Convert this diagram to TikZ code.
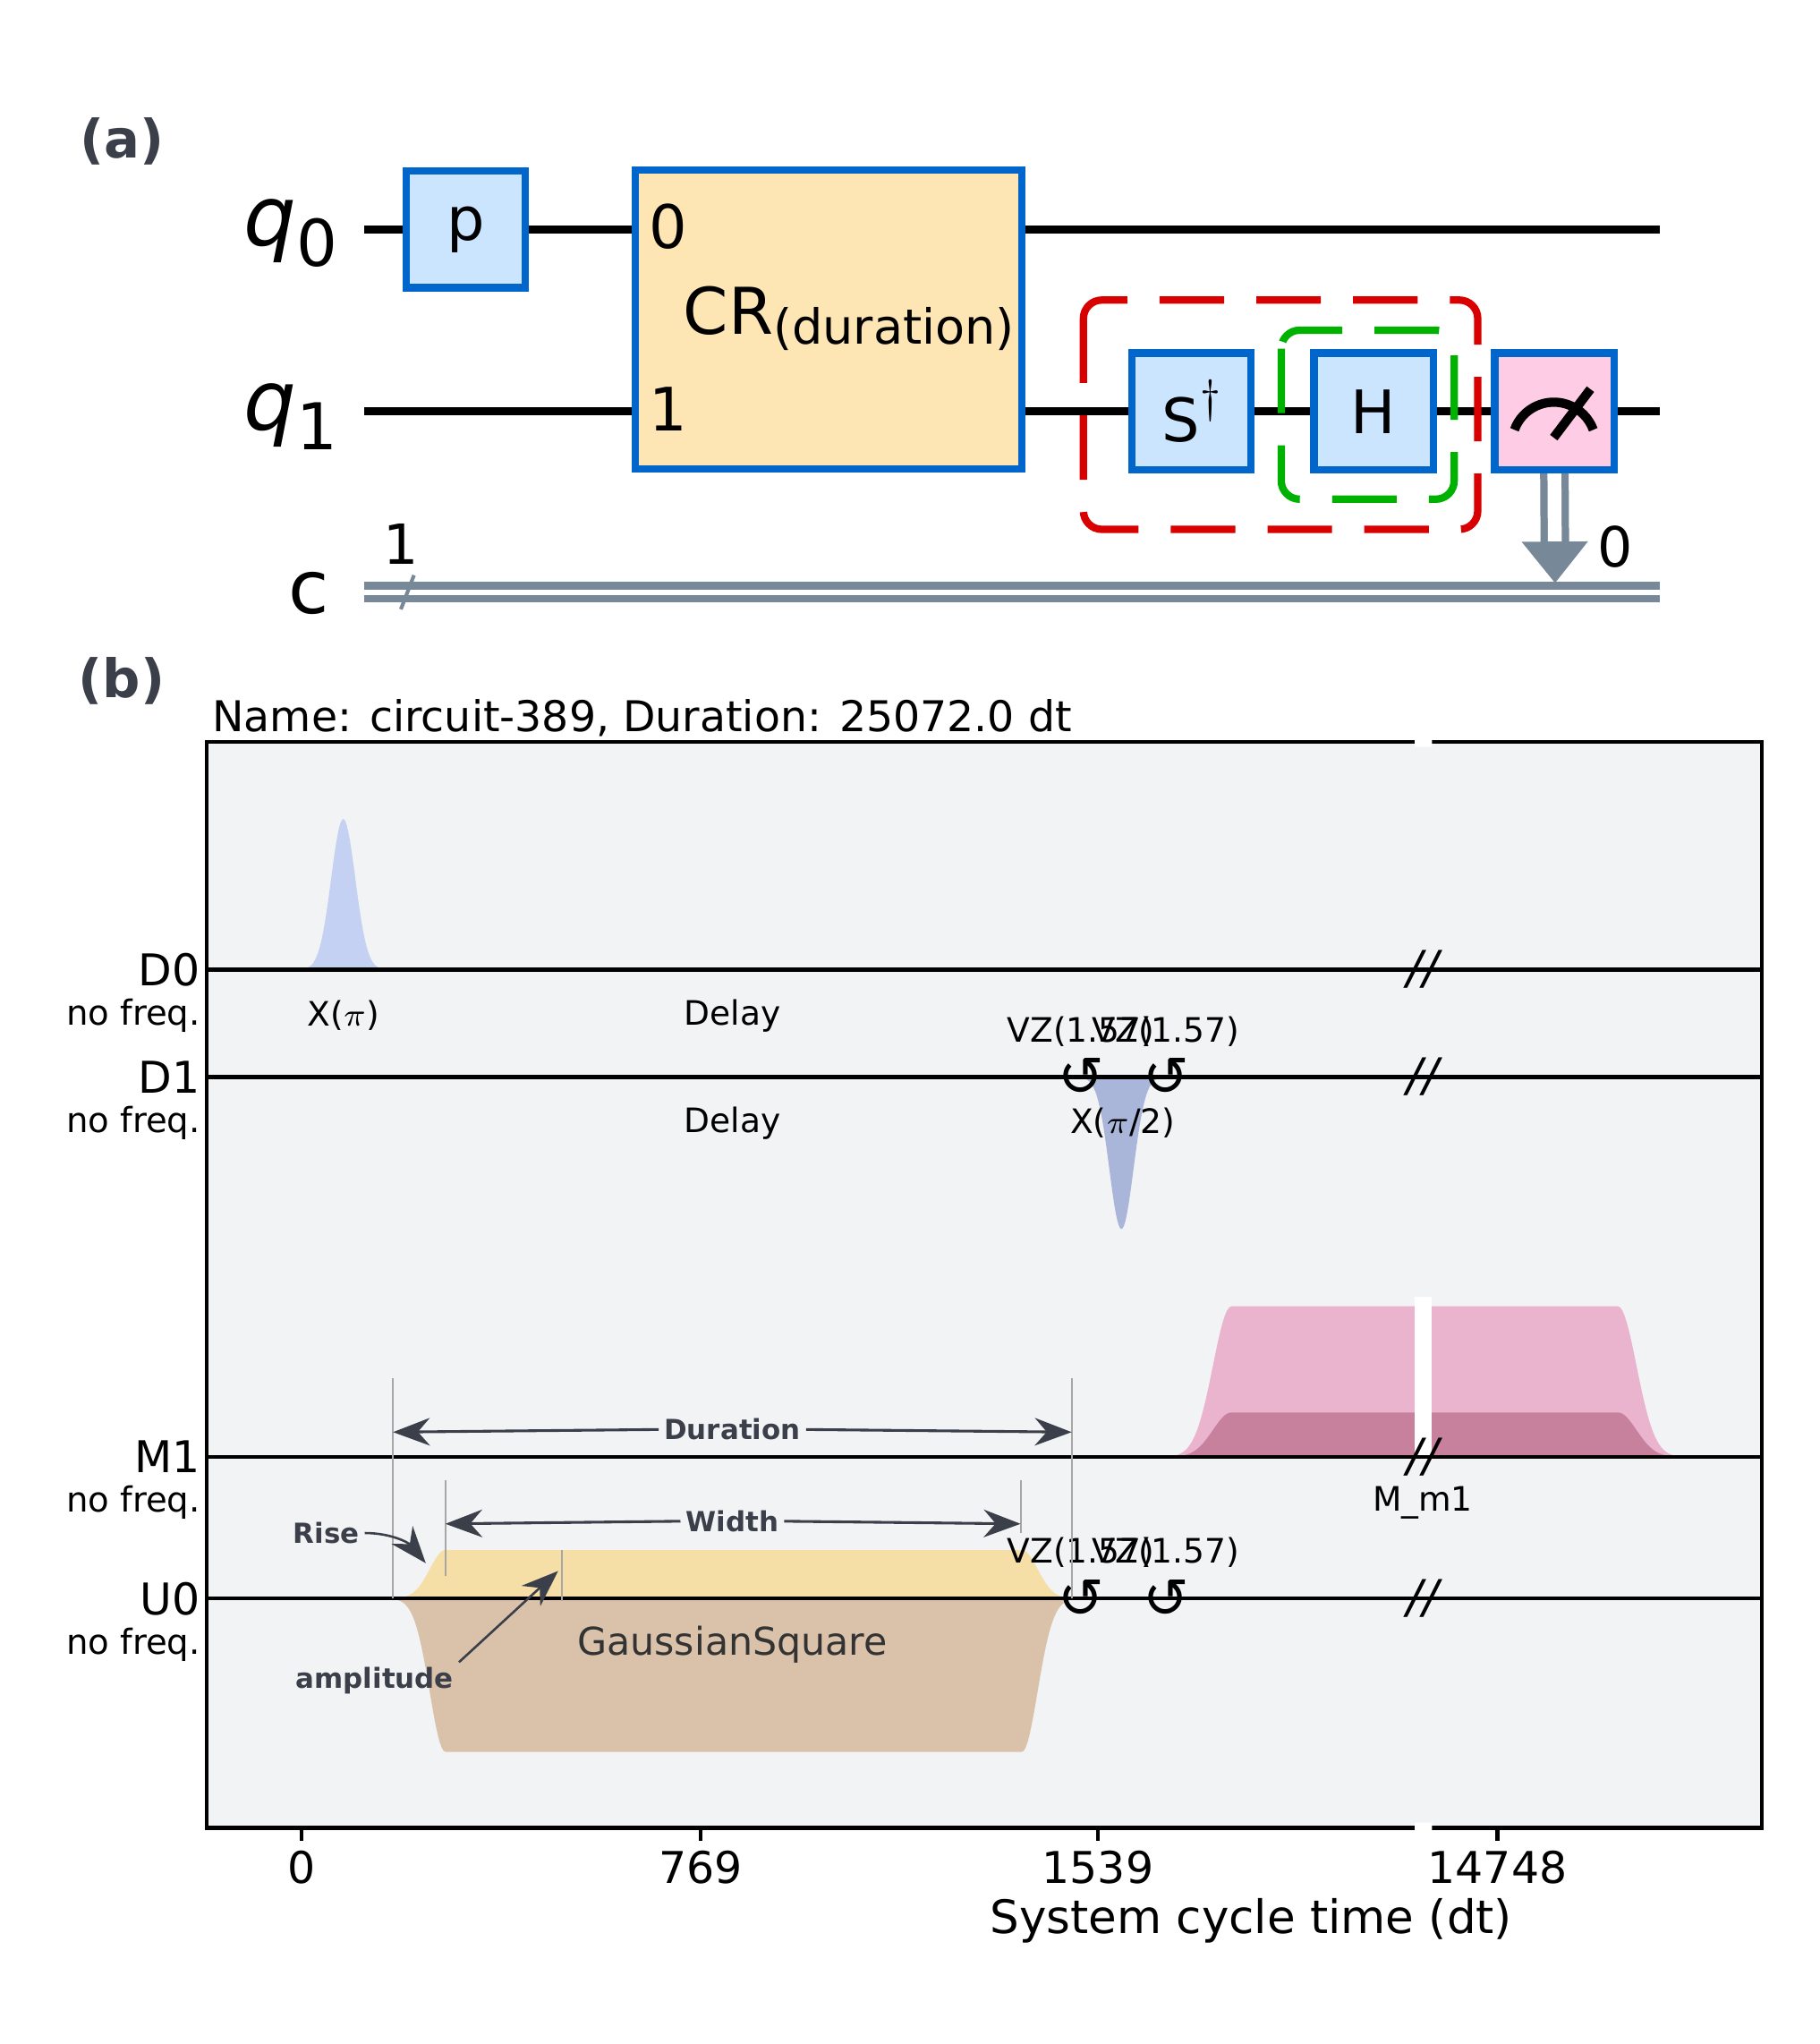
\documentclass[tikz,border=0pt]{standalone}
\usepackage{fontspec}
\setmainfont{DejaVu Sans}
\usepackage{amsmath}
\usetikzlibrary{arrows.meta}
\definecolor{gateblue}{HTML}{CCE5FF}
\definecolor{gateedge}{HTML}{0066CC}
\definecolor{crfill}{HTML}{FDE5B4}
\definecolor{measfill}{HTML}{FFCCE6}
\definecolor{cwire}{HTML}{778899}
\definecolor{plotbg}{HTML}{F2F3F5}
\definecolor{dzero}{HTML}{C5D1F2}
\definecolor{done}{HTML}{A9B5D9}
\definecolor{mlight}{HTML}{EAB4CE}
\definecolor{mdark}{HTML}{C8819C}
\definecolor{ulight}{HTML}{F5DFA7}
\definecolor{udark}{HTML}{D9C2A9}
\definecolor{annot}{HTML}{3A3F4A}
\tikzset{
  gate/.style={draw=gateedge, line width=1.6pt, fill=gateblue, minimum width=0.91cm, minimum height=0.89cm, font=\fontsize{13}{13}\selectfont},
  qwire/.style={line width=1.8pt},
  chan/.style={line width=0.8pt},
  chlabel/.style={anchor=east, inner sep=1pt, font=\fontsize{9.5}{10}\selectfont},
  nofreq/.style={anchor=east, inner sep=1pt, font=\fontsize{7.5}{8}\selectfont},
  plabel/.style={font=\fontsize{7.3}{8}\selectfont},
  vz/.style={font=\fontsize{7.3}{8}\selectfont},
  rot/.style={font=\fontsize{12}{12}\selectfont},
  brk/.style={font=\fontsize{10}{10}\itshape\selectfont},
  guide/.style={draw=gray!70, line width=0.4pt},
  dim/.style={annot, line width=0.6pt, -{Stealth[length=8pt]}},
  anno/.style={text=annot, font=\fontsize{6}{7}\bfseries\selectfont, inner sep=1pt}
}
\begin{document}
\begin{tikzpicture}[x=0.01cm, y=-0.01cm]
	\useasboundingbox (0,0) rectangle (1389,1560);
	% (a) circuit
	\node[font=\fontsize{11.5}{12}\bfseries\selectfont, text=annot] (la) at (93,108) {(a)};
	\node[font=\fontsize{18}{18}\selectfont] (q0) at (222,178) {\textit{q}\raisebox{-0.45ex}{\fontsize{14}{14}\selectfont 0}};
	\node[font=\fontsize{18}{18}\selectfont] (q1) at (222,318) {\textit{q}\raisebox{-0.45ex}{\fontsize{14}{14}\selectfont 1}};
	\node[font=\fontsize{16}{16}\selectfont] (cl) at (236,453) {c};
	\coordinate (q0s) at (278,175); \coordinate (q0e) at (1267,175);
	\coordinate (q1s) at (278,314); \coordinate (q1e) at (1267,314);
	\draw[qwire] (q0s) -- (q0e);
	\draw[qwire] (q1s) -- (q1e);
	\draw[cwire, line width=1.6pt] (278,447) -- (1267,447) (278,457) -- (1267,457);
	\draw[cwire, line width=0.8pt] (306,465) -- (316,439);
	\node[font=\fontsize{12}{12}\selectfont] (cn) at (306,415) {1};
	\node[font=\fontsize{12}{12}\selectfont] (cz) at (1233,417) {0};
	\node[gate] (p) at (355.5,175) {p};
	\node[draw=gateedge, line width=1.6pt, fill=crfill, minimum width=2.95cm, minimum height=2.28cm] (cr) at (632.5,244) {};
	\node[font=\fontsize{13}{13}\selectfont] (cr0) at (510,173) {0};
	\node[font=\fontsize{13}{13}\selectfont] (cr1) at (510,312) {1};
	\node[font=\fontsize{14}{14}\selectfont] (crt) at (648,243) {CR\raisebox{-0.3ex}{\fontsize{10.5}{11}\selectfont(duration)}};
	\draw[red!85!black, line width=1.6pt, dash pattern=on 14pt off 7pt, rounded corners=4pt] (827,229) rectangle (1128,404);
	\draw[green!70!black, line width=1.6pt, dash pattern=on 14pt off 7pt, rounded corners=4pt] (978,252) rectangle (1110,381);
	\node[gate] (sd) at (909.5,314) {S\raisebox{0.9ex}{\fontsize{10}{10}\selectfont$\dagger$}};
	\node[gate] (h) at (1048.5,314) {H};
	\node[gate, fill=measfill] (m) at (1186.5,314) {};
	\draw[line width=2pt] (1156,328) arc[start angle=160, end angle=20, radius=0.32cm];
	\draw[line width=2pt] (1186,334) -- (1214,297);
	\coordinate (mc) at (1187,445);
	\draw[cwire, line width=1.6pt, double distance=3pt, -{Triangle[length=9pt, width=14pt]}] (m.south) -- (mc);
	% (b) pulse schedule
	\node[font=\fontsize{11.5}{12}\bfseries\selectfont, text=annot] (lb) at (93,520) {(b)};
	\node[anchor=west, inner sep=1pt, font=\fontsize{9.2}{10}\selectfont] (title) at (158,548) {Name: circuit-389, Duration: 25072.0 dt};
	\fill[plotbg] (158,566) rectangle (1345,1395);
	% pulses
	\fill[dzero] plot[domain=225:300, samples=60] ({\x},{740-115*exp(-((\x-262)/13)^2)}) -- cycle;
	\fill[done] plot[domain=820:892, samples=60] ({\x},{822+116*exp(-((\x-856)/13)^2)}) -- cycle;
	\fill[mlight] (890,1112) -- plot[domain=890:940, samples=30] ({\x},{1112-115*exp(-((\x-940)/20)^2)}) -- (1235,997) -- plot[domain=1235:1283, samples=30] ({\x},{1112-115*exp(-((\x-1235)/20)^2)}) -- cycle;
	\fill[mdark] (890,1112) -- plot[domain=890:940, samples=30] ({\x},{1112-34*exp(-((\x-940)/20)^2)}) -- (1235,1078) -- plot[domain=1235:1283, samples=30] ({\x},{1112-34*exp(-((\x-1235)/20)^2)}) -- cycle;
	\fill[ulight] (297,1220) -- plot[domain=297:340, samples=30] ({\x},{1220-37*exp(-((\x-340)/17)^2)}) -- (780,1183) -- plot[domain=780:820, samples=30] ({\x},{1220-37*exp(-((\x-780)/17)^2)}) -- cycle;
	\fill[udark] (297,1220) -- plot[domain=297:340, samples=30] ({\x},{1220+117*exp(-((\x-340)/17)^2)}) -- (780,1337) -- plot[domain=780:820, samples=30] ({\x},{1220+117*exp(-((\x-780)/17)^2)}) -- cycle;
	\fill[white] (1080,990) rectangle (1093,1112);
	\draw[line width=0.8pt] (158,566) rectangle (1345,1395);
	\fill[white] (1080,562) rectangle (1093,570) (1080,1391) rectangle (1093,1399);
	% channels
	\foreach \nm/\yy in {D0/740, D1/822, M1/1112, U0/1220}{
		\draw[chan] (158,\yy) -- (1345,\yy);
		\node[chlabel] (ch\nm) at (157,\yy) {\nm};
		\node[nofreq] (nf\nm) at (157,\yy+35) {no freq.};
		\node[brk] (br\nm) at (1086,\yy) {//};
	}
	\node[plabel] (xpi) at (262,775) {X($\pi$)};
	\node[plabel] (dl0) at (559,775) {Delay};
	\node[plabel] (dl1) at (559,857) {Delay};
	\node[plabel] (xpi2) at (857,857) {X($\pi$/2)};
	\node[plabel] (mm1) at (1086,1147) {M\_m1};
	\node[font=\fontsize{8.3}{9}\selectfont, text=black!80] (gs) at (559,1255) {GaussianSquare};
	\foreach \yy/\tg in {822/a, 1220/b}{
		\node[vz] (vz1\tg) at (825,\yy-35) {VZ(1.57)};
		\node[vz] (vz2\tg) at (890,\yy-35) {VZ(1.57)};
		\node[rot] (r1\tg) at (825,\yy) {↺};
		\node[rot] (r2\tg) at (890,\yy) {↺};
	}
	% annotations
	\draw[guide] (300,1052) -- (300,1220) (818,1052) -- (818,1220) (340,1130) -- (340,1203) (779,1130) -- (779,1170) (429,1183) -- (429,1222);
	\node[anno, fill=plotbg] (dur) at (559,1091) {Duration};
	\draw[dim] (dur.west) -- (300,1093);
	\draw[dim] (dur.east) -- (818,1093);
	\node[anno, fill=plotbg] (wid) at (559,1161) {Width};
	\draw[dim] (wid.west) -- (340,1163);
	\draw[dim] (wid.east) -- (779,1163);
	\node[anno] (rise) at (249,1170) {Rise};
	\draw[annot, line width=0.5pt, -{Stealth[length=8pt]}] (rise.east) to[out=0, in=130] (325,1193);
	\node[anno] (amp) at (286,1283) {amplitude};
	\draw[annot, line width=0.5pt, -{Stealth[length=8pt]}] (amp.north east) -- (426,1199);
	% axis
	\foreach \xx/\lab in {230/0, 535/769, 838/1539, 1143/14748}{
		\draw[line width=0.8pt] (\xx,1395) -- (\xx,1405);
		\node[font=\fontsize{9.5}{10}\selectfont] (t\lab) at (\xx,1425) {\lab};
	}
	\node[font=\fontsize{10}{11}\selectfont] (xl) at (955,1466) {System cycle time (dt)};
\end{tikzpicture}
\end{document}
